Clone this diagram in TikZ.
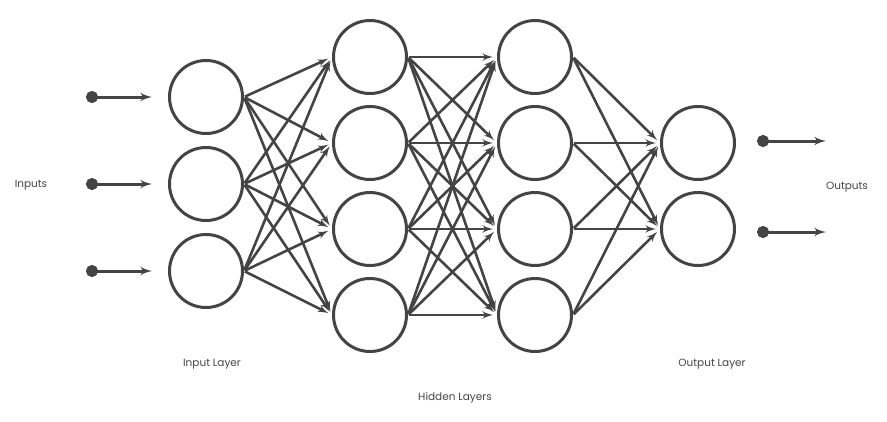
\documentclass[tikz,border=0pt]{standalone}
\usepackage{fontspec}
\setmainfont{Poppins}
\usepackage{tikz}
\usetikzlibrary{arrows}
\definecolor{netgray}{RGB}{68,68,68}
\tikzset{
  neuron/.style = {circle, draw=netgray, line width=3pt, minimum size=73pt, inner sep=0pt},
  link/.style = {->, >=latex', netgray, line width=2.6pt, shorten >=4pt, shorten <=1pt},
  io/.style = {*->, >=latex', netgray, line width=3pt, shorten <=-1pt},
  lbl/.style = {font=\fontsize{10.5}{12}\selectfont, text=netgray},
}
\begin{document}
\begin{tikzpicture}[x=1pt,y=-1pt]
  \useasboundingbox (0,0) rectangle (887,421);
  % input layer
  \foreach \y/\i in {97/1, 184/2, 271/3}
  \node[neuron] (i\i) at (206,\y) {};
  % hidden layers
  \foreach \y/\i in {57/1, 143/2, 229/3, 315/4}{
  \node[neuron] (h\i) at (370,\y) {};
  \node[neuron] (g\i) at (535,\y) {};
  }
  % output layer
  \node[neuron] (o1) at (698,143) {};
  \node[neuron] (o2) at (698,229) {};
  % connections
  \foreach \a in {1,2,3}
  \foreach \b in {1,2,3,4}
  \draw[link] (i\a.east) -- (h\b.west);
  \foreach \a in {1,2,3,4}
  \foreach \b in {1,2,3,4}
  \draw[link] (h\a.east) -- (g\b.west);
  \foreach \a in {1,2,3,4}
  \foreach \b in {1,2}
  \draw[link] (g\a.east) -- (o\b.west);
  % inputs and outputs
  \foreach \y/\i in {97/1, 184/2, 271/3}{
  \coordinate (ia\i) at (87,\y);
  \coordinate (ib\i) at (152,\y);
  \draw[io] (ia\i) -- (ib\i);
  }
  \foreach \y/\i in {141/1, 232/2}{
  \coordinate (oa\i) at (758,\y);
  \coordinate (ob\i) at (826,\y);
  \draw[io] (oa\i) -- (ob\i);
  }
  \node[lbl] (tin) at (31,185) {Inputs};
  \node[lbl] (tout) at (847,187) {Outputs};
  \node[lbl] (til) at (212,364) {Input Layer};
  \node[lbl] (thl) at (455,398) {Hidden Layers};
  \node[lbl] (tol) at (712,364) {Output Layer};
\end{tikzpicture}
\end{document}
